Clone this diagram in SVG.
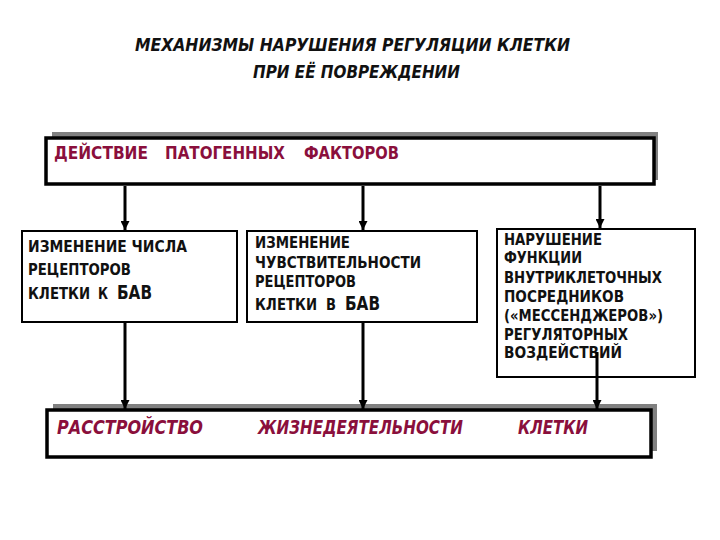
<svg xmlns="http://www.w3.org/2000/svg" width="720" height="540" viewBox="0 0 720 540">
<style>
.title{font-family:"DejaVu Sans","Liberation Sans",sans-serif;font-style:italic;font-weight:bold;font-size:17px;fill:#111}
.head{font-family:"DejaVu Sans","Liberation Sans",sans-serif;font-weight:bold;font-size:18px;fill:#8a0f3c}
.res{font-family:"DejaVu Sans","Liberation Sans",sans-serif;font-style:italic;font-weight:bold;font-size:19px;fill:#8a0f3c}
.t{font-family:"DejaVu Sans","Liberation Sans",sans-serif;font-weight:bold;font-size:15px;fill:#111}
.big{font-size:19px}
.shadow{fill:#808080}
.bigbox{fill:#fff;stroke:#000;stroke-width:3.5}
.box{fill:#fff;stroke:#000;stroke-width:2}
.conn line{stroke:#000;stroke-width:3}
</style>
<defs>
<marker id="ah" viewBox="0 0 10 10" refX="10" refY="5" markerWidth="3" markerHeight="3" orient="auto" markerUnits="strokeWidth">
<path d="M0,0 L10,5 L0,10 Z" fill="#000"/>
</marker>
</defs>
<rect width="720" height="540" fill="#fff"/>
<g id="title">
<text class="title" x="135" y="51" textLength="435" lengthAdjust="spacingAndGlyphs">МЕХАНИЗМЫ  НАРУШЕНИЯ  РЕГУЛЯЦИИ  КЛЕТКИ</text>
<text class="title" x="253" y="78" textLength="207" lengthAdjust="spacingAndGlyphs">ПРИ  ЕЁ ПОВРЕЖДЕНИИ</text>
</g>
<g id="factors">
<rect class="shadow" x="52" y="132" width="606" height="48"/>
<rect class="bigbox" x="46" y="138" width="608" height="46"/>
<text class="head" x="54" y="159" textLength="94" lengthAdjust="spacingAndGlyphs">ДЕЙСТВИЕ</text>
<text class="head" x="165" y="159" textLength="120" lengthAdjust="spacingAndGlyphs">ПАТОГЕННЫХ</text>
<text class="head" x="304" y="159" textLength="95" lengthAdjust="spacingAndGlyphs">ФАКТОРОВ</text>
</g>
<g id="receptor-number">
<rect class="box" x="22" y="231" width="215" height="91"/>
<text class="t" x="28" y="252" textLength="159" lengthAdjust="spacingAndGlyphs">ИЗМЕНЕНИЕ ЧИСЛА</text>
<text class="t" x="28" y="275" textLength="103" lengthAdjust="spacingAndGlyphs">РЕЦЕПТОРОВ</text>
<text class="t" x="28" y="299" textLength="62" lengthAdjust="spacingAndGlyphs">КЛЕТКИ</text>
<text class="t" x="98" y="299" textLength="10" lengthAdjust="spacingAndGlyphs">К</text>
<text class="t big" x="117" y="299" textLength="35" lengthAdjust="spacingAndGlyphs">БАВ</text>
</g>
<g id="receptor-sensitivity">
<rect class="box" x="247" y="231" width="230" height="91"/>
<text class="t" x="255" y="248" textLength="95" lengthAdjust="spacingAndGlyphs">ИЗМЕНЕНИЕ</text>
<text class="t" x="255" y="268" textLength="166" lengthAdjust="spacingAndGlyphs">ЧУВСТВИТЕЛЬНОСТИ</text>
<text class="t" x="255" y="287" textLength="101" lengthAdjust="spacingAndGlyphs">РЕЦЕПТОРОВ</text>
<text class="t" x="255" y="310" textLength="62" lengthAdjust="spacingAndGlyphs">КЛЕТКИ</text>
<text class="t" x="326" y="310" textLength="10" lengthAdjust="spacingAndGlyphs">В</text>
<text class="t big" x="345" y="310" textLength="35" lengthAdjust="spacingAndGlyphs">БАВ</text>
</g>
<g id="messengers">
<rect class="box" x="497" y="229" width="198" height="148"/>
<text class="t" x="504" y="245" textLength="98" lengthAdjust="spacingAndGlyphs">НАРУШЕНИЕ</text>
<text class="t" x="504" y="263" textLength="78" lengthAdjust="spacingAndGlyphs">ФУНКЦИИ</text>
<text class="t" x="504" y="283" textLength="158" lengthAdjust="spacingAndGlyphs">ВНУТРИКЛЕТОЧНЫХ</text>
<text class="t" x="504" y="302" textLength="120" lengthAdjust="spacingAndGlyphs">ПОСРЕДНИКОВ</text>
<text class="t" x="504" y="321" textLength="159" lengthAdjust="spacingAndGlyphs">(«МЕССЕНДЖЕРОВ»)</text>
<text class="t" x="504" y="340" textLength="124" lengthAdjust="spacingAndGlyphs">РЕГУЛЯТОРНЫХ</text>
<text class="t" x="504" y="358" textLength="118" lengthAdjust="spacingAndGlyphs">ВОЗДЕЙСТВИЙ</text>
</g>
<g id="disorder">
<rect class="shadow" x="53" y="404" width="604" height="47"/>
<rect class="bigbox" x="47" y="410" width="604" height="47"/>
<text class="res" x="57" y="434" textLength="146" lengthAdjust="spacingAndGlyphs">РАССТРОЙСТВО</text>
<text class="res" x="258" y="434" textLength="205" lengthAdjust="spacingAndGlyphs">ЖИЗНЕДЕЯТЕЛЬНОСТИ</text>
<text class="res" x="518" y="434" textLength="70" lengthAdjust="spacingAndGlyphs">КЛЕТКИ</text>
</g>
<g id="connectors" class="conn">
<line x1="125" y1="186" x2="125" y2="230" marker-end="url(#ah)"/>
<line x1="363" y1="186" x2="363" y2="230" marker-end="url(#ah)"/>
<line x1="600" y1="186" x2="600" y2="228" marker-end="url(#ah)"/>
<line x1="125" y1="323" x2="125" y2="409" marker-end="url(#ah)"/>
<line x1="363" y1="323" x2="363" y2="409" marker-end="url(#ah)"/>
<line x1="597" y1="352" x2="597" y2="409" marker-end="url(#ah)"/>
</g>
</svg>
